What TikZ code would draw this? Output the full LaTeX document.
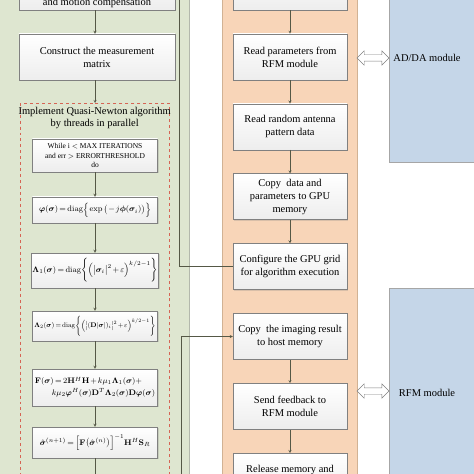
\documentclass[tikz,border=0pt]{standalone}
\usepackage{amsmath}
\usepackage{bm}
\usepackage{graphicx}
\usepackage[no-math]{fontspec}
\setmainfont{Liberation Serif}
\usetikzlibrary{positioning, shapes.arrows, shadows, arrows}

\definecolor{panelgreen}{RGB}{222,230,208}
\definecolor{panelorange}{RGB}{248,213,184}
\definecolor{moduleblue}{RGB}{197,214,232}
\definecolor{boxline}{RGB}{128,128,128}
\definecolor{flowline}{RGB}{85,88,70}
\definecolor{dashred}{RGB}{214,100,84}

\newcommand{\bsig}{\boldsymbol{\sigma}}
\newcommand{\tightmath}{\medmuskip=2mu\thickmuskip=3mu\thinmuskip=2mu}

\begin{document}
\begin{tikzpicture}[
    x=1bp, y=-1bp,
    node distance=23.5bp,
    stepbox/.style={rectangle, draw=boxline, top color=white, bottom color=gray!14, drop shadow={opacity=0.25, shadow xshift=1bp, shadow yshift=-1bp}, align=center, inner sep=2bp, font=\fontsize{10.5}{13}\selectfont},
    widebox/.style={stepbox, minimum width=156bp, minimum height=46bp},
    mathbox/.style={stepbox, minimum width=125bp, inner sep=1bp, font=\fontsize{8.5}{10.5}\selectfont\tightmath},
    gpubox/.style={stepbox, minimum width=114bp, minimum height=46bp},
    modbox/.style={rectangle, draw=gray!70, fill=moduleblue, minimum width=92bp},
    modtext/.style={font=\fontsize{10.5}{13}\selectfont},
    dashbox/.style={rectangle, draw=dashred, dashed, minimum width=149bp, minimum height=390bp, anchor=north west},
    dblarrow/.style={double arrow, draw=boxline, fill=white, minimum height=32bp, inner sep=3bp, double arrow head extend=4bp},
    flow/.style={->, >=stealth, flowline},
    link/.style={flowline}
]
\useasboundingbox (0,0) rectangle (474,474);

% panels
\node[rectangle, draw=gray!45!panelgreen, fill=panelgreen, minimum width=200bp, minimum height=490bp, anchor=north east] (hostpanel) at (189,-8) {};
\node[rectangle, draw=orange!40!gray!60, fill=panelorange, minimum width=135bp, minimum height=490bp, anchor=north west] (gpupanel) at (222,-8) {};

% Left column
\node[widebox] (motion) at (97,-13) {};
\node[modtext, anchor=base] (motiontext) at (97,6) {and motion compensation};
\node[widebox] (measure) at (97,57) {Construct the measurement\\matrix};

\node[dashbox] (qnbox) at (20,103) {};
\node[below=1bp of qnbox.north, align=center, font=\fontsize{10.5}{11.5}\selectfont] (qntitle) {Implement Quasi-Newton algorithm\\by threads in parallel};

\node[stepbox, minimum width=125bp, minimum height=33bp, font=\fontsize{7.5}{9.5}\selectfont] (loop) at (95,155.5) {While i $<$ MAX ITERATIONS\\and err $>$ ERRORTHRESHOLD\\do};
\node[mathbox, minimum height=26bp] (phi) at (95,210) {$\boldsymbol{\varphi}(\bsig)=\mathrm{diag}\Big\{\exp\big(-j\boldsymbol{\phi}(\bsig_i)\big)\Big\}$};
\node[mathbox, minimum height=35bp] (lamone) at (95,270.5) {$\mathbf{\Lambda}_1(\bsig)=\mathrm{diag}\Bigg\{\Big(\big|\bsig_i\big|^2+\varepsilon\Big)^{k/2-1}\Bigg\}$};
\node[mathbox, minimum height=30bp] (lamtwo) at (95,326) {\resizebox{121bp}{!}{$\mathbf{\Lambda}_2(\bsig)=\mathrm{diag}\Bigg\{\Big(\big|(\mathbf{D}|\bsig|)_i\big|^2+\varepsilon\Big)^{k/2-1}\Bigg\}$}};
\node[mathbox, minimum height=37bp] (fmat) at (95,387.5) {$\begin{array}{@{}l@{}}
    \mathbf{F}(\bsig)=2\mathbf{H}^H\mathbf{H}+k\mu_1\mathbf{\Lambda}_1(\bsig)+\\[1bp]
    \multicolumn{1}{@{}r@{}}{\qquad k\mu_2\boldsymbol{\varphi}^H(\bsig)\mathbf{D}^T\mathbf{\Lambda}_2(\bsig)\mathbf{D}\boldsymbol{\varphi}(\bsig)}
    \end{array}$};
\node[mathbox, minimum height=31bp] (update) at (95,442.5) {$\hat{\bsig}^{(n+1)}=\Big[\mathbf{F}\big(\hat{\bsig}^{(n)}\big)\Big]^{-1}\mathbf{H}^H\mathbf{S}_R$};
\coordinate (qnout) at (95,480);

\draw[flow] (motion.south -| loop) -- (measure.north -| loop);
\draw[flow] (measure.south -| loop) -- (qnbox.north -| loop);
\draw[flow] (loop) -- (phi);
\draw[flow] (phi) -- (lamone);
\draw[flow] (lamone) -- (lamtwo);
\draw[flow] (lamtwo) -- (fmat);
\draw[flow] (fmat) -- (update);
\draw[link] (update) -- (qnout);

% Right column
\node[gpubox] (gputop) at (290,-13) {};
\node[gpubox, below=of gputop] (readpar) {Read parameters from\\RFM module};
\node[gpubox, below=of readpar] (readpat) {Read random antenna\\pattern data};
\node[gpubox, below=of readpat] (copydata) {Copy\ \ data and\\parameters to GPU\\memory};
\node[gpubox, below=of copydata] (config) {Configure the GPU grid\\for algorithm execution};
\node[gpubox, below=of config] (copyres) {Copy\ \ the imaging result\\to host memory};
\node[gpubox, below=of copyres] (feedback) {Send feedback to\\RFM module};
\node[gpubox, below=of feedback] (release) {};
\node[anchor=north, font=\fontsize{10.5}{13}\selectfont] (releasetext) at ([yshift=-9bp]release.north) {Release memory and};

\draw[flow] (gputop) -- (readpar);
\draw[flow] (readpar) -- (readpat);
\draw[flow] (readpat) -- (copydata);
\draw[flow] (copydata) -- (config);
\draw[flow] (copyres) -- (feedback);
\draw[flow] (feedback) -- (release);

% links between the two columns
\coordinate (gridin) at (179,-8);
\coordinate (resultin) at (181,480);
\draw[link] (gridin) |- (config.west);
\draw[flow] (resultin) |- (copyres.west);

% modules
\node[modbox, minimum height=208bp] (adda) at (435,58) {};
\node[modtext] (addatext) at (427,58) {AD/DA module};
\node[modbox, minimum height=210bp] (rfm) at (435,393) {};
\node[modtext] (rfmtext) at (427,393) {RFM module};

\node[dblarrow] (addalink) at (373,58) {};
\node[dblarrow] (rfmlink) at (373,391) {};

\end{tikzpicture}
\end{document}
